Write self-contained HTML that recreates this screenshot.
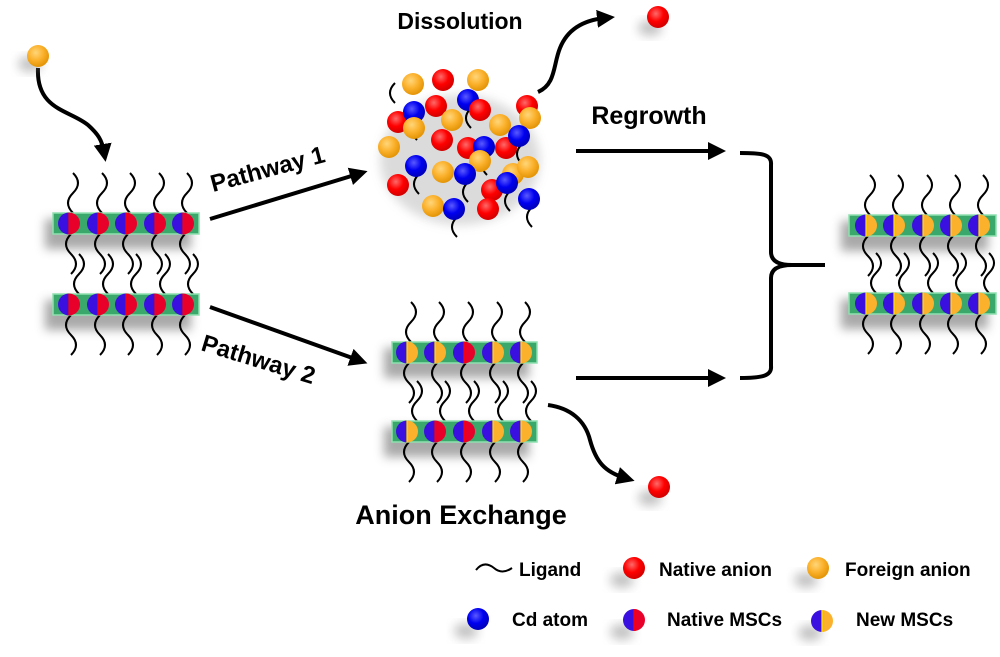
<!DOCTYPE html>
<html><head><meta charset="utf-8">
<style>
html,body{margin:0;padding:0;background:#fff;width:1000px;height:657px;overflow:hidden}
svg{display:block}
text{font-family:"Liberation Sans",Arial,sans-serif;font-weight:bold;fill:#000}
</style></head><body>
<svg id="s" width="1000" height="657" viewBox="0 0 1000 657" xmlns="http://www.w3.org/2000/svg">
<defs>
<filter id="sh" x="-30%" y="-30%" width="160%" height="160%"><feGaussianBlur stdDeviation="5"/></filter>
<radialGradient id="gr" cx="0.4" cy="0.35" r="0.7"><stop offset="0" stop-color="#ff6a6a"/><stop offset="0.5" stop-color="#f00"/><stop offset="1" stop-color="#c00"/></radialGradient>
<radialGradient id="go" cx="0.4" cy="0.35" r="0.7"><stop offset="0" stop-color="#ffd67a"/><stop offset="0.5" stop-color="#fbb12c"/><stop offset="1" stop-color="#e09000"/></radialGradient>
<radialGradient id="gb" cx="0.4" cy="0.35" r="0.7"><stop offset="0" stop-color="#5a5aff"/><stop offset="0.5" stop-color="#0000f0"/><stop offset="1" stop-color="#0000b0"/></radialGradient>
<marker id="ah" markerWidth="4.5" markerHeight="4.5" refX="2" refY="2.25" orient="auto" markerUnits="strokeWidth"><path d="M0,0 L4.5,2.25 L0,4.5 z" fill="#000"/></marker>
</defs>
<g id="g"></g>
<text x="460" y="29" font-size="23" text-anchor="middle">Dissolution</text>
<text x="649" y="124" font-size="25" text-anchor="middle">Regrowth</text>
<text x="461" y="524" font-size="27" text-anchor="middle">Anion Exchange</text>
<text x="0" y="0" font-size="24" transform="translate(213,192) rotate(-15)">Pathway 1</text>
<text x="0" y="0" font-size="24" transform="translate(200,350) rotate(17)">Pathway 2</text>
<text x="519" y="576" font-size="19">Ligand</text>
<text x="659" y="576" font-size="19">Native anion</text>
<text x="845" y="576" font-size="19">Foreign anion</text>
<text x="512" y="626" font-size="19">Cd atom</text>
<text x="667" y="626" font-size="19">Native MSCs</text>
<text x="856" y="626" font-size="19">New MSCs</text>
</svg>
<script>
var o='';
function lig(x,y,dir,len){
  var s=dir*20; var d='M'+x+','+y+' q-10,'+(s/2)+' 0,'+s;
  var n=Math.round(len/20);
  for(var i=1;i<n;i++) d+=' t0,'+s;
  return '<path d="'+d+'" fill="none" stroke="#000" stroke-width="2"/>';
}
function ball(cx,cy,r,g){return '<circle cx="'+cx+'" cy="'+cy+'" r="'+r+'" fill="url(#'+g+')"/>';}
function msc(cx,cy,r,right){
  var rc=right=='r'?'#e8002a':'#fbb12c';
  return '<path d="M'+cx+','+(cy-r)+' A'+r+','+r+' 0 0 0 '+cx+','+(cy+r)+'z" fill="#3a10e0"/>'+
   '<path d="M'+cx+','+(cy-r)+' A'+r+','+r+' 0 0 1 '+cx+','+(cy+r)+'z" fill="'+rc+'"/>'+
   '<line x1="'+cx+'" y1="'+(cy-r)+'" x2="'+cx+'" y2="'+(cy+r)+'" stroke="'+(right=='r'?'#ff0000':'#ffe000')+'" stroke-width="1.2"/>';
}
function stack(x0,x1,y1,y2,xs,p1,p2){
  var s='<g opacity="0.5" filter="url(#sh)"><rect x="'+(x0-8)+'" y="'+(y1+6)+'" width="'+(x1-x0)+'" height="30" fill="#555"/><rect x="'+(x0-8)+'" y="'+(y2+6)+'" width="'+(x1-x0)+'" height="30" fill="#555"/></g>';
  xs.forEach(function(x){
    s+=lig(x+4,y1,-1,40);
    s+=lig(x+2,y1+21,1,40);
    s+=lig(x+10,y2,-1,40);
    s+=lig(x+2,y2+21,1,40);
  });
  [y1,y2].forEach(function(y,k){
    s+='<rect x="'+x0+'" y="'+y+'" width="'+(x1-x0)+'" height="21" fill="#3aa86a" stroke="#8fe0b0" stroke-width="1.5"/>';
    var p=k==0?p1:p2;
    xs.forEach(function(x,i){s+=msc(x,y+10.5,11,p[i]);});
  });
  return s;
}
o+=stack(53,199,213,294,[69,98,126,155,183],'rrrrr','rrrrr');
o+=stack(392,537,342,421,[407,435,464,493,521],'ooroo','orroo');
o+=stack(849,996,215,293,[866,894,923,951,979],'ooooo','ooooo');
o+='<ellipse cx="460" cy="160" rx="80" ry="65" fill="#999" opacity="0.35" filter="url(#sh)"/>';
var balls=[
[413,84,'go'],[443,80,'gr'],[478,80,'go'],[527,106,'gr'],[398,122,'gr'],[414,112,'gb'],[436,106,'gr'],[468,100,'gb'],[480,110,'gr'],[452,120,'go'],[500,125,'go'],[530,118,'go'],[414,128,'go'],[442,140,'gr'],[468,148,'gr'],[484,147,'gb'],[506,148,'gr'],[519,136,'gb'],[389,147,'go'],[480,161,'go'],[416,166,'gb'],[443,172,'go'],[465,174,'gb'],[513,174,'go'],[528,167,'go'],[398,185,'gr'],[492,190,'gr'],[433,206,'go'],[454,209,'gb'],[488,209,'gr'],[529,199,'gb'],[507,183,'gb']];
balls.forEach(function(b){ if(b[2]=='gb') o+=lig(b[0]+3,b[1]+8,1,20);});
o+=lig(395,83,1,20);
balls.forEach(function(b){o+=ball(b[0],b[1],11,b[2]);});
function arr(d,w){return '<path d="'+d+'" fill="none" stroke="#000" stroke-width="'+w+'" marker-end="url(#ah)"/>';}
o+=arr('M210,219 L358,174',4);
o+=arr('M210,307 L358,360',4);
o+=arr('M576,151 L716,151',4);
o+=arr('M576,378 L716,378',4);
o+=arr('M38,68 C36,110 70,110 88,125 C98,134 102,140 104,152',4);
o+=arr('M538,92 C556,84 553,65 560,48 C568,28 585,20 605,18',4);
o+=arr('M548,405 C570,408 585,420 590,440 C596,462 605,472 625,478',4);
o+='<path d="M740,153 C762,153 772,154 771,165 L771,252 C771,262 780,265 792,265 L825,265 M792,265 C780,265 771,268 771,278 L771,366 C772,376 762,378 740,378" fill="none" stroke="#000" stroke-width="4"/>';
o+='<ellipse cx="650" cy="28" rx="12" ry="8" fill="#888" opacity="0.5" filter="url(#sh)"/>'+ball(658,17,11,'gr');
o+='<ellipse cx="650" cy="498" rx="12" ry="8" fill="#888" opacity="0.5" filter="url(#sh)"/>'+ball(659,487,11,'gr');
o+='<ellipse cx="30" cy="64" rx="12" ry="8" fill="#888" opacity="0.5" filter="url(#sh)"/>'+ball(38,56,11,'go');
o+='<path d="M476,570 q8,-10 18,-2 q8,7 18,0" fill="none" stroke="#000" stroke-width="2"/>';
function lgs(cx,cy){return '<ellipse cx="'+(cx-12)+'" cy="'+(cy+12)+'" rx="12" ry="8" fill="#888" opacity="0.5" filter="url(#sh)"/>';}
o+=lgs(634,568)+ball(634,568,11,'gr');
o+=lgs(818,568)+ball(818,568,11,'go');
o+=lgs(478,619)+ball(478,619,11,'gb');
o+=lgs(634,620)+msc(634,620,11,'r');
o+=lgs(822,621)+msc(822,621,11,'o');
document.getElementById('g').innerHTML=o;
</script>
</body></html>
